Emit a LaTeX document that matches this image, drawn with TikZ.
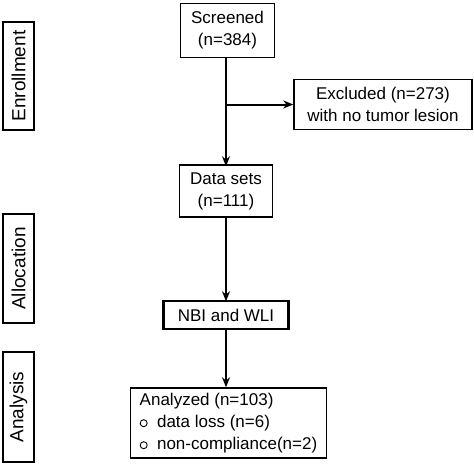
\documentclass[tikz,border=0pt]{standalone}
\usepackage{fontspec}
\setmainfont{Liberation Sans}
\usetikzlibrary{positioning,arrows.meta}

\newcommand{\opencirc}{\tikz[baseline=0pt]\draw[line width=0.9pt] (0pt,4.2pt) circle (3.5pt);}

\tikzset{
  flowbox/.style={draw, line width=1.5pt, align=center, inner sep=0pt, font=\fontsize{17}{22}\selectfont},
  stagebox/.style={draw, line width=1.5pt, rotate=90, minimum height=31pt, inner sep=0pt, font=\fontsize{19}{23}\selectfont},
  flowarrow/.style={->, line width=2pt},
}

\begin{document}
\begin{tikzpicture}[x=1pt, y=-1pt, >={Stealth[length=10pt,width=8pt]}]
  \useasboundingbox (0,0) rectangle (474,467);
  % stage labels on the left
  \node[stagebox, minimum width=108pt] (enroll) at (18.5,76) {Enrollment};
  \node[stagebox, minimum width=109pt] (alloc) at (18.5,268.5) {Allocation};
  \node[stagebox, minimum width=110pt] (analy) at (18.5,407) {Analysis};
  % flow
  \node[flowbox, minimum width=94pt, minimum height=54pt] (scr) at (227.5,30.5) {Screened\\(n=384)};
  \node[flowbox, minimum width=178pt, minimum height=50pt] (exc) at (383,104.5) {Excluded (n=273)\\with no tumor lesion};
  \node[flowbox, minimum width=93pt, minimum height=52pt] (data) at (226,191) {Data sets\\(n=111)};
  \node[flowbox, minimum width=123pt, minimum height=28pt] (nbi) at (226,315) {NBI and WLI};
  \node[flowbox, align=left, inner xsep=9pt, minimum height=70pt] (ana) at (228.5,423) {Analyzed (n=103)\\\opencirc\ \ data loss (n=6)\\\opencirc\ \ non-compliance(n=2)};
  % thick side edges of the NBI box
  \draw[line width=2.8pt] (nbi.south west) -- (nbi.north west);
  \draw[line width=2.8pt] (nbi.south east) -- (nbi.north east);
  \draw[flowarrow] (data.north |- scr.south) -- ([yshift=-2pt]data.north);
  \draw[flowarrow] (data.north |- exc.west) -- (exc.west);
  \draw[flowarrow] (data.south) -- ([yshift=-1pt]nbi.north);
  \draw[flowarrow] (nbi.south) -- (nbi.south |- ana.north);
\end{tikzpicture}
\end{document}
